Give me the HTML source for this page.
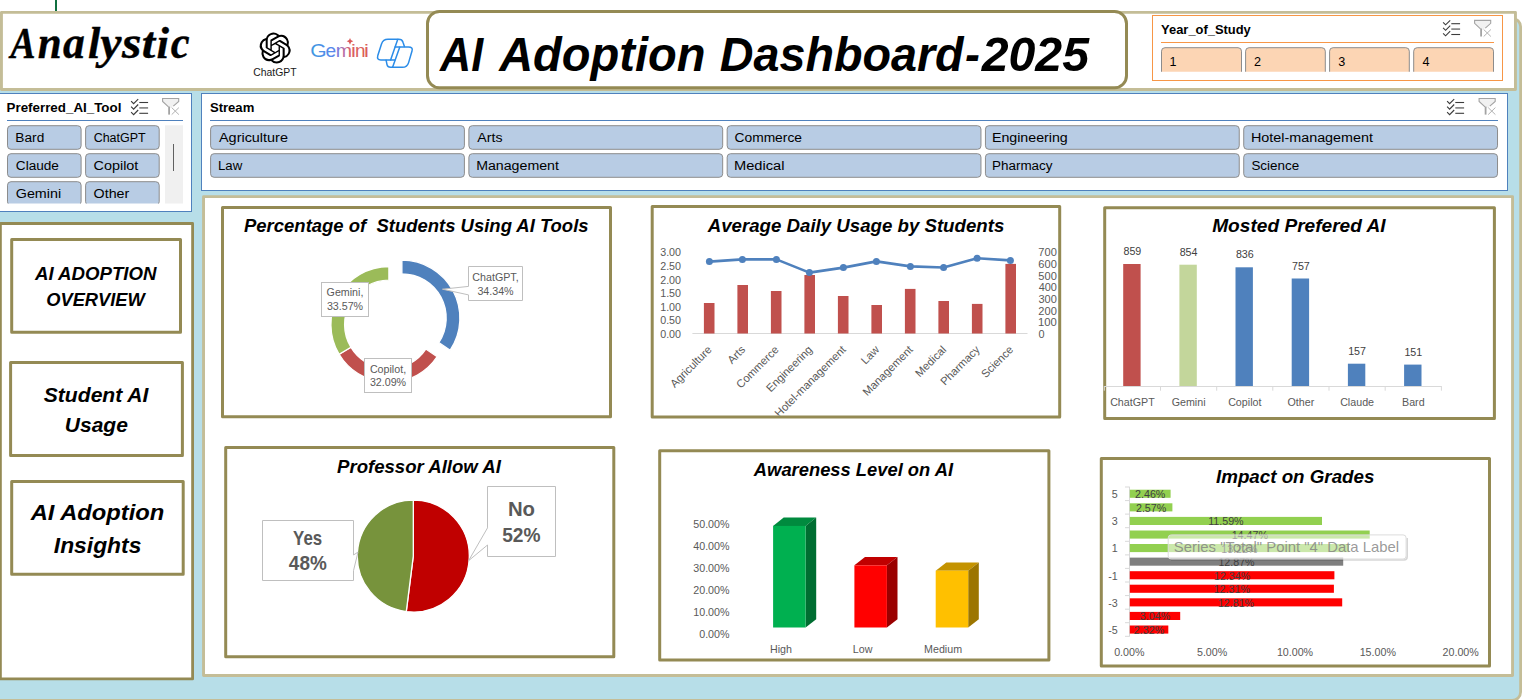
<!DOCTYPE html>
<html><head><meta charset="utf-8"><title>AI Adoption Dashboard-2025</title>
<style>
html,body{margin:0;padding:0;background:#fff;overflow:hidden}
svg{display:block;font-family:"Liberation Sans",sans-serif}
</style></head>
<body>
<svg width="1529" height="700" viewBox="0 0 1529 700">
<rect x="0" y="0" width="1529" height="700" fill="#fff"/>
<rect x="-8.5" y="18.3" width="1529.1" height="682.2" rx="8.5" fill="#B7DEE8" stroke="#C4BD97" stroke-width="2.8"/>
<rect x="55" y="0" width="2" height="11" fill="#107040"/>
<rect x="1.45" y="12.35" width="1514.0" height="77.19999999999999" fill="#fff" stroke="#C4BD97" stroke-width="2.9" stroke-linejoin="round"/>
<text x="10.5" y="58" font-size="44.3" fill="#000" font-weight="bold" font-style="italic" textLength="25.02" lengthAdjust="spacingAndGlyphs" font-family="'Liberation Serif', serif" stroke="#000" stroke-width="0.4">A</text>
<text x="37.67" y="58" font-size="46" fill="#000" font-weight="bold" font-style="italic" textLength="23.91" lengthAdjust="spacingAndGlyphs" font-family="'Liberation Serif', serif" stroke="#000" stroke-width="0.4">n</text>
<text x="62.93" y="58" font-size="46" fill="#000" font-weight="bold" font-style="italic" textLength="21.84" lengthAdjust="spacingAndGlyphs" font-family="'Liberation Serif', serif" stroke="#000" stroke-width="0.4">a</text>
<text x="87.92" y="58" font-size="45" fill="#000" font-weight="bold" font-style="italic" textLength="12.32" lengthAdjust="spacingAndGlyphs" font-family="'Liberation Serif', serif" stroke="#000" stroke-width="0.4">l</text>
<text x="100.3" y="58" font-size="46" fill="#000" font-weight="bold" font-style="italic" textLength="21.21" lengthAdjust="spacingAndGlyphs" font-family="'Liberation Serif', serif" stroke="#000" stroke-width="0.4">y</text>
<text x="122.07" y="58" font-size="46" fill="#000" font-weight="bold" font-style="italic" textLength="19.46" lengthAdjust="spacingAndGlyphs" font-family="'Liberation Serif', serif" stroke="#000" stroke-width="0.4">s</text>
<text x="141.73" y="58" font-size="45" fill="#000" font-weight="bold" font-style="italic" textLength="13.38" lengthAdjust="spacingAndGlyphs" font-family="'Liberation Serif', serif" stroke="#000" stroke-width="0.4">t</text>
<text x="156.48" y="58" font-size="45" fill="#000" font-weight="bold" font-style="italic" textLength="12.49" lengthAdjust="spacingAndGlyphs" font-family="'Liberation Serif', serif" stroke="#000" stroke-width="0.4">i</text>
<text x="170.82" y="58" font-size="46" fill="#000" font-weight="bold" font-style="italic" textLength="18.79" lengthAdjust="spacingAndGlyphs" font-family="'Liberation Serif', serif" stroke="#000" stroke-width="0.4">c</text>
<rect x="427.5" y="11.5" width="699" height="76.3" fill="#fff" stroke="#948A54" stroke-width="3" rx="12" stroke-linejoin="round"/>
<text x="440.1" y="71" font-size="48" fill="#000" font-weight="bold" font-style="italic" textLength="43.03" lengthAdjust="spacingAndGlyphs">AI</text>
<text x="499.18" y="71" font-size="48" fill="#000" font-weight="bold" font-style="italic" textLength="206.25" lengthAdjust="spacingAndGlyphs">Adoption</text>
<text x="719.85" y="71" font-size="48" fill="#000" font-weight="bold" font-style="italic" textLength="243.79" lengthAdjust="spacingAndGlyphs">Dashboard</text>
<text x="965.02" y="71" font-size="48" fill="#000" font-weight="bold" font-style="italic" textLength="14.84" lengthAdjust="spacingAndGlyphs">-</text>
<text x="981.65" y="71" font-size="48" fill="#000" font-weight="bold" font-style="italic" textLength="107.35" lengthAdjust="spacingAndGlyphs">2025</text>
<path transform="translate(259.6,32.5) scale(1.297,1.292)" d="M22.2819 9.8211a5.9847 5.9847 0 0 0-.5157-4.9108 6.0462 6.0462 0 0 0-6.5098-2.9A6.0651 6.0651 0 0 0 4.9807 4.1818a5.9847 5.9847 0 0 0-3.9977 2.9 6.0462 6.0462 0 0 0 .7427 7.0966 5.98 5.98 0 0 0 .511 4.9107 6.051 6.051 0 0 0 6.5146 2.9001A5.9847 5.9847 0 0 0 13.2599 24a6.0557 6.0557 0 0 0 5.7718-4.2058 5.9894 5.9894 0 0 0 3.9977-2.9001 6.0557 6.0557 0 0 0-.7475-7.0729zm-9.022 12.6081a4.4755 4.4755 0 0 1-2.8764-1.0408l.1419-.0804 4.7783-2.7582a.7948.7948 0 0 0 .3927-.6813v-6.7369l2.02 1.1686a.071.071 0 0 1 .038.052v5.5826a4.504 4.504 0 0 1-4.4945 4.4944zm-9.6607-4.1254a4.4708 4.4708 0 0 1-.5346-3.0137l.142.0852 4.783 2.7582a.7712.7712 0 0 0 .7806 0l5.8428-3.3685v2.3324a.0804.0804 0 0 1-.0332.0615L9.74 19.9502a4.4992 4.4992 0 0 1-6.1408-1.6464zM2.3408 7.8956a4.485 4.485 0 0 1 2.3655-1.9728V11.6a.7664.7664 0 0 0 .3879.6765l5.8144 3.3543-2.0201 1.1685a.0757.0757 0 0 1-.071 0l-4.8303-2.7865A4.504 4.504 0 0 1 2.3408 7.872zm16.5963 3.8558L13.1038 8.364 15.1192 7.2a.0757.0757 0 0 1 .071 0l4.8303 2.7913a4.4944 4.4944 0 0 1-.6765 8.1042v-5.6772a.79.79 0 0 0-.407-.667zm2.0107-3.0231l-.142-.0852-4.7735-2.7818a.7759.7759 0 0 0-.7854 0L9.409 9.2297V6.8974a.0662.0662 0 0 1 .0284-.0615l4.8303-2.7866a4.4992 4.4992 0 0 1 6.6802 4.66zM8.3065 12.863l-2.02-1.1638a.0804.0804 0 0 1-.038-.0567V6.0742a4.4992 4.4992 0 0 1 7.3757-3.4537l-.142.0805L8.704 5.459a.7948.7948 0 0 0-.3927.6813zm1.0976-2.3654l2.602-1.4998 2.6069 1.4998v2.9994l-2.5974 1.4997-2.6067-1.4997Z" fill="#000"/>
<text x="253.2" y="76" font-size="11.5" fill="#1a1a1a" textLength="43.3" lengthAdjust="spacingAndGlyphs">ChatGPT</text>
<defs><linearGradient id="gem" gradientUnits="userSpaceOnUse" x1="311" x2="368" y1="0" y2="0"><stop offset="0" stop-color="#3F97E0"/><stop offset="0.40" stop-color="#5A86EC"/><stop offset="0.47" stop-color="#7577D8"/><stop offset="0.58" stop-color="#B86AA0"/><stop offset="0.69" stop-color="#D95F66"/><stop offset="1" stop-color="#DA5D55"/></linearGradient></defs>
<text x="310.15" y="57.25" font-size="19.2" fill="url(#gem)" textLength="16.43" lengthAdjust="spacingAndGlyphs">G</text>
<text x="325.38" y="57.25" font-size="19.2" fill="url(#gem)" textLength="10.67" lengthAdjust="spacingAndGlyphs">e</text>
<text x="335.73" y="57.25" font-size="19.2" fill="url(#gem)" textLength="16.28" lengthAdjust="spacingAndGlyphs">m</text>
<text x="351.07" y="57.25" font-size="19.2" fill="url(#gem)" textLength="4.88" lengthAdjust="spacingAndGlyphs">i</text>
<text x="355.02" y="57.25" font-size="19.2" fill="url(#gem)" textLength="10.51" lengthAdjust="spacingAndGlyphs">n</text>
<text x="364.07" y="57.25" font-size="19.2" fill="url(#gem)" textLength="4.88" lengthAdjust="spacingAndGlyphs">i</text>
<path d="M350 37.9 q0.5 2.9 3.3 3.4 q-2.8 0.5 -3.3 3.4 q-0.5 -2.9 -3.3 -3.4 q2.8 -0.5 3.3 -3.4z" fill="#DB5A5A"/>
<g fill="none" stroke="#2B8CE8" stroke-width="1.5" stroke-linejoin="round" stroke-linecap="round"><path d="M394.9 59.9 H380.8 Q376.6 59.9 377.8 55.6 L381.5 43.9 Q383 39.3 388 39.3 H398.6 Q402.2 39.3 403 42.2 L404.4 46.6"/><path d="M395.1 47 H408.4 Q413.3 47 412 51 L408.6 62.6 Q407.2 67.3 402.4 67.3 H390.5 Q387.6 67.3 387 64.6 L386.1 60.2"/><path d="M397.7 39.5 L390.6 59.9"/><path d="M399.7 47.2 L392.6 67.2"/></g>
<rect x="1152.5" y="15.5" width="350" height="65" fill="#fff" stroke="#F79646" stroke-width="1"/>
<text x="1161.14" y="33.9" font-size="12.5" fill="#000" font-weight="bold" textLength="89.65" lengthAdjust="spacingAndGlyphs">Year_of_Study</text>
<g transform="translate(1443.1,20.4)" fill="none" stroke="#3C3C3C" stroke-width="1.15"><path d="M0 1.9 L2.5 4.4 L7.1 0"/><path d="M0 7.5 L2.5 9.9 L7.1 5.3"/><path d="M0 13 L2.5 15.4 L7.1 10.8"/><path d="M8.2 3.3 H17" stroke-width="1.1"/><path d="M8.2 8.7 H17" stroke="#7F7F7F" stroke-width="1.6"/><path d="M8.2 14.1 H17" stroke-width="1.1"/></g>
<g transform="translate(1474.1,19.9)" fill="none" stroke="#A3A3A3" stroke-width="1.1"><path d="M0.5 0.5 H16.6 V3.2 L8 10.5 L6.6 8.9 L0.5 3.2Z" fill="#F1F1F1" stroke="none"/><path d="M11.2 8.2 L16.6 3.4 V0.5 H0.5 V3.4 L6.4 8.9"/><rect x="6.1" y="8.6" width="1.8" height="8" fill="#A3A3A3" stroke="none"/><path d="M9.6 9.6 L16.8 16.6 M16.8 9.6 L9.6 16.6" stroke="#B2B2B2" stroke-width="1"/></g>
<path d="M1161 42.5 H1494" stroke="#F79646" stroke-width="1"/>
<clipPath id="cy"><rect x="1155" y="44" width="345" height="27.8"/></clipPath><g clip-path="url(#cy)">
<rect x="1161.5" y="47.7" width="80" height="30" fill="#FCD5B4" stroke="#8C8C8C" stroke-width="1" rx="3.5"/>
<text x="1169.6" y="65.9" font-size="12.6" fill="#000">1</text>
<rect x="1245.6" y="47.7" width="79.70000000000005" height="30" fill="#FCD5B4" stroke="#8C8C8C" stroke-width="1" rx="3.5"/>
<text x="1254.07" y="65.9" font-size="12.6" fill="#000">2</text>
<rect x="1329.6" y="47.7" width="79.70000000000005" height="30" fill="#FCD5B4" stroke="#8C8C8C" stroke-width="1" rx="3.5"/>
<text x="1338.2" y="65.9" font-size="12.6" fill="#000">3</text>
<rect x="1413.7" y="47.7" width="79.79999999999995" height="30" fill="#FCD5B4" stroke="#8C8C8C" stroke-width="1" rx="3.5"/>
<text x="1422.55" y="65.9" font-size="12.6" fill="#000">4</text>
</g>
<rect x="-1.5" y="93.5" width="193" height="118" fill="#fff" stroke="#4F81BD" stroke-width="1"/>
<text x="6.56" y="111.9" font-size="12.5" fill="#000" font-weight="bold" textLength="114.85" lengthAdjust="spacingAndGlyphs">Preferred_AI_Tool</text>
<g transform="translate(131.1,99.2)" fill="none" stroke="#3C3C3C" stroke-width="1.15"><path d="M0 1.9 L2.5 4.4 L7.1 0"/><path d="M0 7.5 L2.5 9.9 L7.1 5.3"/><path d="M0 13 L2.5 15.4 L7.1 10.8"/><path d="M8.2 3.3 H17" stroke-width="1.1"/><path d="M8.2 8.7 H17" stroke="#7F7F7F" stroke-width="1.6"/><path d="M8.2 14.1 H17" stroke-width="1.1"/></g>
<g transform="translate(162.1,98)" fill="none" stroke="#A3A3A3" stroke-width="1.1"><path d="M0.5 0.5 H16.6 V3.2 L8 10.5 L6.6 8.9 L0.5 3.2Z" fill="#F1F1F1" stroke="none"/><path d="M11.2 8.2 L16.6 3.4 V0.5 H0.5 V3.4 L6.4 8.9"/><rect x="6.1" y="8.6" width="1.8" height="8" fill="#A3A3A3" stroke="none"/><path d="M9.6 9.6 L16.8 16.6 M16.8 9.6 L9.6 16.6" stroke="#B2B2B2" stroke-width="1"/></g>
<path d="M7 120.5 H183" stroke="#4F81BD" stroke-width="1"/>
<clipPath id="cp"><rect x="0" y="122" width="190" height="81.5"/></clipPath><g clip-path="url(#cp)">
<rect x="7.5" y="125.7" width="73.6" height="23.6" fill="#B8CCE4" stroke="#8C8C8C" stroke-width="1" rx="3.5"/>
<text x="15.39" y="141.7" font-size="12.3" fill="#000" textLength="28.87" lengthAdjust="spacingAndGlyphs">Bard</text>
<rect x="85.6" y="125.7" width="73.6" height="23.6" fill="#B8CCE4" stroke="#8C8C8C" stroke-width="1" rx="3.5"/>
<text x="93.67" y="141.7" font-size="12.3" fill="#000" textLength="52.0" lengthAdjust="spacingAndGlyphs">ChatGPT</text>
<rect x="7.5" y="153.7" width="73.6" height="23.6" fill="#B8CCE4" stroke="#8C8C8C" stroke-width="1" rx="3.5"/>
<text x="15.81" y="169.7" font-size="12.3" fill="#000" textLength="43.15" lengthAdjust="spacingAndGlyphs">Claude</text>
<rect x="85.6" y="153.7" width="73.6" height="23.6" fill="#B8CCE4" stroke="#8C8C8C" stroke-width="1" rx="3.5"/>
<text x="93.57" y="169.7" font-size="12.3" fill="#000" textLength="44.77" lengthAdjust="spacingAndGlyphs">Copilot</text>
<rect x="7.5" y="181.7" width="73.6" height="23.6" fill="#B8CCE4" stroke="#8C8C8C" stroke-width="1" rx="3.5"/>
<text x="15.77" y="197.7" font-size="12.3" fill="#000" textLength="45.29" lengthAdjust="spacingAndGlyphs">Gemini</text>
<rect x="85.6" y="181.7" width="73.6" height="23.6" fill="#B8CCE4" stroke="#8C8C8C" stroke-width="1" rx="3.5"/>
<text x="93.57" y="197.7" font-size="12.3" fill="#000" textLength="35.73" lengthAdjust="spacingAndGlyphs">Other</text>
<rect x="165" y="125.3" width="18" height="90" fill="#F0F0F0"/>
</g>
<path d="M173.5 144 V171" stroke="#606060" stroke-width="1"/>
<rect x="201.5" y="93.5" width="1306" height="97" fill="#fff" stroke="#4F81BD" stroke-width="1"/>
<text x="209.91" y="111.9" font-size="12.5" fill="#000" font-weight="bold" textLength="44.39" lengthAdjust="spacingAndGlyphs">Stream</text>
<g transform="translate(1447.1,99.2)" fill="none" stroke="#3C3C3C" stroke-width="1.15"><path d="M0 1.9 L2.5 4.4 L7.1 0"/><path d="M0 7.5 L2.5 9.9 L7.1 5.3"/><path d="M0 13 L2.5 15.4 L7.1 10.8"/><path d="M8.2 3.3 H17" stroke-width="1.1"/><path d="M8.2 8.7 H17" stroke="#7F7F7F" stroke-width="1.6"/><path d="M8.2 14.1 H17" stroke-width="1.1"/></g>
<g transform="translate(1478.6,98)" fill="none" stroke="#A3A3A3" stroke-width="1.1"><path d="M0.5 0.5 H16.6 V3.2 L8 10.5 L6.6 8.9 L0.5 3.2Z" fill="#F1F1F1" stroke="none"/><path d="M11.2 8.2 L16.6 3.4 V0.5 H0.5 V3.4 L6.4 8.9"/><rect x="6.1" y="8.6" width="1.8" height="8" fill="#A3A3A3" stroke="none"/><path d="M9.6 9.6 L16.8 16.6 M16.8 9.6 L9.6 16.6" stroke="#B2B2B2" stroke-width="1"/></g>
<path d="M210 120.5 H1498" stroke="#4F81BD" stroke-width="1"/>
<rect x="210.6" y="125.7" width="253.8" height="23.6" fill="#B8CCE4" stroke="#8C8C8C" stroke-width="1" rx="3.5"/>
<text x="219.0" y="141.7" font-size="12.3" fill="#000" textLength="68.92" lengthAdjust="spacingAndGlyphs">Agriculture</text>
<rect x="468.88" y="125.7" width="253.8" height="23.6" fill="#B8CCE4" stroke="#8C8C8C" stroke-width="1" rx="3.5"/>
<text x="477.3" y="141.7" font-size="12.3" fill="#000" textLength="25.18" lengthAdjust="spacingAndGlyphs">Arts</text>
<rect x="727.16" y="125.7" width="253.8" height="23.6" fill="#B8CCE4" stroke="#8C8C8C" stroke-width="1" rx="3.5"/>
<text x="734.5" y="141.7" font-size="12.3" fill="#000" textLength="67.48" lengthAdjust="spacingAndGlyphs">Commerce</text>
<rect x="985.4399999999999" y="125.7" width="253.8" height="23.6" fill="#B8CCE4" stroke="#8C8C8C" stroke-width="1" rx="3.5"/>
<text x="991.94" y="141.7" font-size="12.3" fill="#000" textLength="75.84" lengthAdjust="spacingAndGlyphs">Engineering</text>
<rect x="1243.7199999999998" y="125.7" width="253.8" height="23.6" fill="#B8CCE4" stroke="#8C8C8C" stroke-width="1" rx="3.5"/>
<text x="1250.93" y="141.7" font-size="12.3" fill="#000" textLength="122.06" lengthAdjust="spacingAndGlyphs">Hotel-management</text>
<rect x="210.6" y="153.7" width="253.8" height="23.6" fill="#B8CCE4" stroke="#8C8C8C" stroke-width="1" rx="3.5"/>
<text x="217.92" y="169.7" font-size="12.3" fill="#000" textLength="24.31" lengthAdjust="spacingAndGlyphs">Law</text>
<rect x="468.88" y="153.7" width="253.8" height="23.6" fill="#B8CCE4" stroke="#8C8C8C" stroke-width="1" rx="3.5"/>
<text x="476.15" y="169.7" font-size="12.3" fill="#000" textLength="82.79" lengthAdjust="spacingAndGlyphs">Management</text>
<rect x="727.16" y="153.7" width="253.8" height="23.6" fill="#B8CCE4" stroke="#8C8C8C" stroke-width="1" rx="3.5"/>
<text x="734.01" y="169.7" font-size="12.3" fill="#000" textLength="50.48" lengthAdjust="spacingAndGlyphs">Medical</text>
<rect x="985.4399999999999" y="153.7" width="253.8" height="23.6" fill="#B8CCE4" stroke="#8C8C8C" stroke-width="1" rx="3.5"/>
<text x="992.01" y="169.7" font-size="12.3" fill="#000" textLength="60.48" lengthAdjust="spacingAndGlyphs">Pharmacy</text>
<rect x="1243.7199999999998" y="153.7" width="253.8" height="23.6" fill="#B8CCE4" stroke="#8C8C8C" stroke-width="1" rx="3.5"/>
<text x="1251.42" y="169.7" font-size="12.3" fill="#000" textLength="47.73" lengthAdjust="spacingAndGlyphs">Science</text>
<rect x="0.3999999999999999" y="223.5" width="192.2" height="455.3999999999999" fill="#fff" stroke="#948A54" stroke-width="2.8" stroke-linejoin="round"/>
<rect x="11.7" y="239.5" width="168.8" height="92.80000000000001" fill="#fff" stroke="#948A54" stroke-width="3" stroke-linejoin="round"/>
<rect x="10.6" y="362.6" width="171.8" height="92.79999999999995" fill="#fff" stroke="#948A54" stroke-width="3" stroke-linejoin="round"/>
<rect x="11.7" y="481.5" width="171.5" height="92.70000000000005" fill="#fff" stroke="#948A54" stroke-width="3" stroke-linejoin="round"/>
<text x="34.98" y="280" font-size="18.6" fill="#000" font-weight="bold" font-style="italic" textLength="121.54" lengthAdjust="spacingAndGlyphs">AI ADOPTION</text>
<text x="46.24" y="305.9" font-size="18.6" fill="#000" font-weight="bold" font-style="italic" textLength="98.6" lengthAdjust="spacingAndGlyphs">OVERVIEW</text>
<text x="43.74" y="401.8" font-size="20.4" fill="#000" font-weight="bold" font-style="italic" textLength="104.74" lengthAdjust="spacingAndGlyphs">Student AI</text>
<text x="64.84" y="431.5" font-size="20.4" fill="#000" font-weight="bold" font-style="italic" textLength="63.05" lengthAdjust="spacingAndGlyphs">Usage</text>
<text x="30.69" y="520" font-size="22.6" fill="#000" font-weight="bold" font-style="italic" textLength="133.66" lengthAdjust="spacingAndGlyphs">AI Adoption</text>
<text x="53.82" y="552.5" font-size="22.6" fill="#000" font-weight="bold" font-style="italic" textLength="87.54" lengthAdjust="spacingAndGlyphs">Insights</text>
<rect x="203.54999999999998" y="196.64999999999998" width="1309.0" height="478.8" fill="#fff" stroke="#C4BD97" stroke-width="2.9" stroke-linejoin="round"/>
<rect x="222.5" y="207.5" width="388" height="209.2" fill="#fff" stroke="#948A54" stroke-width="3" stroke-linejoin="round"/>
<text x="244.03" y="232.3" font-size="18.6" fill="#000" font-weight="bold" font-style="italic" textLength="344.52" lengthAdjust="spacingAndGlyphs">Percentage of  Students Using AI Tools</text>
<path d="M401.90 260.10 A58 58 0 0 1 450.20 350.22 L438.79 342.63 A44.3 44.3 0 0 0 401.90 273.80Z" fill="#4F81BD" stroke="#fff" stroke-width="1.3"/>
<path d="M437.20 356.62 A58 58 0 0 1 339.11 354.24 L350.87 347.22 A44.3 44.3 0 0 0 425.79 349.03Z" fill="#C0504D" stroke="#fff" stroke-width="1.3"/>
<path d="M339.11 354.24 A58 58 0 0 1 388.90 266.50 L388.90 280.20 A44.3 44.3 0 0 0 350.87 347.22Z" fill="#9BBB59" stroke="#fff" stroke-width="1.3"/>
<path d="M468.5 266.5 H522.5 V300.5 H468.5 V294.9 L442.5 289.2 L468.5 286.4 Z" fill="#fff" stroke="#BFBFBF" stroke-width="1"/>
<text x="495.5" y="281.1" font-size="10.7" fill="#595959" text-anchor="middle">ChatGPT,</text>
<text x="495.5" y="294.9" font-size="10.7" fill="#595959" text-anchor="middle">34.34%</text>
<rect x="321.5" y="282.5" width="47.0" height="34.0" fill="#fff" stroke="#BFBFBF" stroke-width="1"/>
<text x="345.0" y="296" font-size="10.7" fill="#595959" text-anchor="middle">Gemini,</text>
<text x="345.0" y="309.7" font-size="10.7" fill="#595959" text-anchor="middle">33.57%</text>
<rect x="364.5" y="358.5" width="47.0" height="34.0" fill="#fff" stroke="#BFBFBF" stroke-width="1"/>
<text x="388.0" y="373.3" font-size="10.7" fill="#595959" text-anchor="middle">Copilot,</text>
<text x="388.0" y="386.3" font-size="10.7" fill="#595959" text-anchor="middle">32.09%</text>
<rect x="652.2" y="206.5" width="407.5" height="210.39999999999998" fill="#fff" stroke="#948A54" stroke-width="3" stroke-linejoin="round"/>
<text x="707.78" y="231.5" font-size="18.6" fill="#000" font-weight="bold" font-style="italic" textLength="296.5" lengthAdjust="spacingAndGlyphs">Average Daily Usage by Students</text>
<text x="681" y="337.9" font-size="10.7" fill="#595959" text-anchor="end">0.00</text>
<text x="681" y="324.29999999999995" font-size="10.7" fill="#595959" text-anchor="end">0.50</text>
<text x="681" y="310.7" font-size="10.7" fill="#595959" text-anchor="end">1.00</text>
<text x="681" y="297.09999999999997" font-size="10.7" fill="#595959" text-anchor="end">1.50</text>
<text x="681" y="283.5" font-size="10.7" fill="#595959" text-anchor="end">2.00</text>
<text x="681" y="269.9" font-size="10.7" fill="#595959" text-anchor="end">2.50</text>
<text x="681" y="256.3" font-size="10.7" fill="#595959" text-anchor="end">3.00</text>
<text x="1038.53" y="338.0" font-size="10.9" fill="#595959">0</text>
<text x="1037.99" y="326.3" font-size="10.9" fill="#595959" textLength="18.84" lengthAdjust="spacingAndGlyphs">100</text>
<text x="1038.39" y="314.6" font-size="10.9" fill="#595959" textLength="18.44" lengthAdjust="spacingAndGlyphs">200</text>
<text x="1038.52" y="302.9" font-size="10.9" fill="#595959" textLength="18.3" lengthAdjust="spacingAndGlyphs">300</text>
<text x="1038.65" y="291.3" font-size="10.9" fill="#595959" textLength="18.17" lengthAdjust="spacingAndGlyphs">400</text>
<text x="1038.39" y="279.6" font-size="10.9" fill="#595959" textLength="18.44" lengthAdjust="spacingAndGlyphs">500</text>
<text x="1038.39" y="267.9" font-size="10.9" fill="#595959" textLength="18.44" lengthAdjust="spacingAndGlyphs">600</text>
<text x="1038.39" y="256.2" font-size="10.9" fill="#595959" textLength="18.44" lengthAdjust="spacingAndGlyphs">700</text>
<path d="M692.4 333.5 H1027.5" stroke="#D9D9D9" stroke-width="1"/>
<clipPath id="c2"><rect x="653.7" y="208" width="404.5" height="207.4"/></clipPath><g clip-path="url(#c2)">
<rect x="703.9" y="303" width="10.6" height="30.5" fill="#C0504D"/>
<text transform="translate(712.5,350.4) rotate(-45)" text-anchor="end" font-size="11.2" fill="#595959">Agriculture</text>
<rect x="737.4" y="285" width="10.6" height="48.5" fill="#C0504D"/>
<text transform="translate(746.0,350.4) rotate(-45)" text-anchor="end" font-size="11.2" fill="#595959">Arts</text>
<rect x="770.9" y="291" width="10.6" height="42.5" fill="#C0504D"/>
<text transform="translate(779.5,350.4) rotate(-45)" text-anchor="end" font-size="11.2" fill="#595959">Commerce</text>
<rect x="804.4" y="275" width="10.6" height="58.5" fill="#C0504D"/>
<text transform="translate(813.0,350.4) rotate(-45)" text-anchor="end" font-size="11.2" fill="#595959">Engineering</text>
<rect x="837.9" y="296" width="10.6" height="37.5" fill="#C0504D"/>
<text transform="translate(846.5,350.4) rotate(-45)" text-anchor="end" font-size="11.2" fill="#595959">Hotel-management</text>
<rect x="871.4" y="305" width="10.6" height="28.5" fill="#C0504D"/>
<text transform="translate(880.0,350.4) rotate(-45)" text-anchor="end" font-size="11.2" fill="#595959">Law</text>
<rect x="904.9" y="288.9" width="10.6" height="44.60000000000002" fill="#C0504D"/>
<text transform="translate(913.5,350.4) rotate(-45)" text-anchor="end" font-size="11.2" fill="#595959">Management</text>
<rect x="938.4" y="301" width="10.6" height="32.5" fill="#C0504D"/>
<text transform="translate(947.0,350.4) rotate(-45)" text-anchor="end" font-size="11.2" fill="#595959">Medical</text>
<rect x="971.9" y="303.9" width="10.6" height="29.600000000000023" fill="#C0504D"/>
<text transform="translate(980.5,350.4) rotate(-45)" text-anchor="end" font-size="11.2" fill="#595959">Pharmacy</text>
<rect x="1005.4" y="263.9" width="10.6" height="69.60000000000002" fill="#C0504D"/>
<text transform="translate(1014.0,350.4) rotate(-45)" text-anchor="end" font-size="11.2" fill="#595959">Science</text>
</g>
<polyline fill="none" stroke="#4F81BD" stroke-width="2.6" stroke-linejoin="round" points="709.4,261.6 742.4,259.4 776.4,259.4 809.4,272.6 843.4,267.6 876.4,261.4 910.4,266.4 943.6,267.5 977.1,258.2 1010.4,260.4"/>
<circle cx="709.4" cy="261.6" r="3.5" fill="#4F81BD"/>
<circle cx="742.4" cy="259.4" r="3.5" fill="#4F81BD"/>
<circle cx="776.4" cy="259.4" r="3.5" fill="#4F81BD"/>
<circle cx="809.4" cy="272.6" r="3.5" fill="#4F81BD"/>
<circle cx="843.4" cy="267.6" r="3.5" fill="#4F81BD"/>
<circle cx="876.4" cy="261.4" r="3.5" fill="#4F81BD"/>
<circle cx="910.4" cy="266.4" r="3.5" fill="#4F81BD"/>
<circle cx="943.6" cy="267.5" r="3.5" fill="#4F81BD"/>
<circle cx="977.1" cy="258.2" r="3.5" fill="#4F81BD"/>
<circle cx="1010.4" cy="260.4" r="3.5" fill="#4F81BD"/>
<rect x="1104.7" y="207.7" width="389.70000000000005" height="210.7" fill="#fff" stroke="#948A54" stroke-width="3" stroke-linejoin="round"/>
<text x="1212.21" y="232.4" font-size="18.6" fill="#000" font-weight="bold" font-style="italic" textLength="173.42" lengthAdjust="spacingAndGlyphs">Mosted Prefered AI</text>
<path d="M1104.3 386.5 H1441.4" stroke="#D9D9D9" stroke-width="1"/>
<path d="M1104.3 386 V390.7" stroke="#D9D9D9" stroke-width="1"/>
<path d="M1160.5 386 V390.7" stroke="#D9D9D9" stroke-width="1"/>
<path d="M1216.7 386 V390.7" stroke="#D9D9D9" stroke-width="1"/>
<path d="M1272.8 386 V390.7" stroke="#D9D9D9" stroke-width="1"/>
<path d="M1329.0 386 V390.7" stroke="#D9D9D9" stroke-width="1"/>
<path d="M1385.2 386 V390.7" stroke="#D9D9D9" stroke-width="1"/>
<path d="M1441.4 386 V390.7" stroke="#D9D9D9" stroke-width="1"/>
<rect x="1123.2" y="264.0" width="17.4" height="122.0" fill="#C0504D"/>
<text x="1132.4" y="255.0" font-size="10.7" fill="#404040" text-anchor="middle">859</text>
<text x="1132.4" y="406.1" font-size="10.7" fill="#595959" text-anchor="middle">ChatGPT</text>
<rect x="1179.4" y="264.7" width="17.4" height="121.3" fill="#C3D69B"/>
<text x="1188.6" y="255.7" font-size="10.7" fill="#404040" text-anchor="middle">854</text>
<text x="1188.6" y="406.1" font-size="10.7" fill="#595959" text-anchor="middle">Gemini</text>
<rect x="1235.5" y="267.3" width="17.4" height="118.7" fill="#4F81BD"/>
<text x="1244.8" y="258.3" font-size="10.7" fill="#404040" text-anchor="middle">836</text>
<text x="1244.8" y="406.1" font-size="10.7" fill="#595959" text-anchor="middle">Copilot</text>
<rect x="1291.7" y="278.5" width="17.4" height="107.5" fill="#4F81BD"/>
<text x="1300.9" y="269.5" font-size="10.7" fill="#404040" text-anchor="middle">757</text>
<text x="1300.9" y="406.1" font-size="10.7" fill="#595959" text-anchor="middle">Other</text>
<rect x="1347.9" y="363.7" width="17.4" height="22.3" fill="#4F81BD"/>
<text x="1357.1" y="354.7" font-size="10.7" fill="#404040" text-anchor="middle">157</text>
<text x="1357.1" y="406.1" font-size="10.7" fill="#595959" text-anchor="middle">Claude</text>
<rect x="1404.1" y="364.6" width="17.4" height="21.4" fill="#4F81BD"/>
<text x="1413.3" y="355.6" font-size="10.7" fill="#404040" text-anchor="middle">151</text>
<text x="1413.3" y="406.1" font-size="10.7" fill="#595959" text-anchor="middle">Bard</text>
<rect x="225.7" y="447.5" width="388.09999999999997" height="209.20000000000005" fill="#fff" stroke="#948A54" stroke-width="3" stroke-linejoin="round"/>
<text x="337.03" y="472.9" font-size="18.6" fill="#000" font-weight="bold" font-style="italic" textLength="163.86" lengthAdjust="spacingAndGlyphs">Professor Allow AI</text>
<path d="M413.3 556 L413.3 500 A56 56 0 1 1 406.28 611.56Z" fill="#C00000" stroke="#fff" stroke-width="1.3" stroke-linejoin="round"/>
<path d="M413.3 556 L406.28 611.56 A56 56 0 0 1 413.3 500Z" fill="#77933C" stroke="#fff" stroke-width="1.3" stroke-linejoin="round"/>
<path d="M487.5 486.5 H555.5 V556.5 H487.5 V545 L468.6 560.7 L487.5 527.9 Z" fill="#fff" stroke="#BFBFBF" stroke-width="1"/>
<text x="507.94" y="515.7" font-size="19.8" fill="#595959" font-weight="bold" textLength="27.08" lengthAdjust="spacingAndGlyphs">No</text>
<text x="502.14" y="541.7" font-size="19.8" fill="#595959" font-weight="bold" textLength="38.36" lengthAdjust="spacingAndGlyphs">52%</text>
<path d="M262.5 520.5 H353.5 V555 L358 552.1 L353.5 570.7 V580.5 H262.5 Z" fill="#fff" stroke="#BFBFBF" stroke-width="1"/>
<text x="293.08" y="545" font-size="19.8" fill="#595959" font-weight="bold" textLength="29.05" lengthAdjust="spacingAndGlyphs">Yes</text>
<text x="288.86" y="570.2" font-size="19.8" fill="#595959" font-weight="bold" textLength="37.89" lengthAdjust="spacingAndGlyphs">48%</text>
<rect x="659.7" y="450.8" width="389.20000000000005" height="209.2" fill="#fff" stroke="#948A54" stroke-width="3" stroke-linejoin="round"/>
<text x="753.87" y="475.7" font-size="18.6" fill="#000" font-weight="bold" font-style="italic" textLength="199.17" lengthAdjust="spacingAndGlyphs">Awareness Level on AI</text>
<text x="729.5" y="638.3" font-size="10.7" fill="#595959" text-anchor="end">0.00%</text>
<text x="729.5" y="616.3" font-size="10.7" fill="#595959" text-anchor="end">10.00%</text>
<text x="729.5" y="594.3" font-size="10.7" fill="#595959" text-anchor="end">20.00%</text>
<text x="729.5" y="572.3" font-size="10.7" fill="#595959" text-anchor="end">30.00%</text>
<text x="729.5" y="550.3" font-size="10.7" fill="#595959" text-anchor="end">40.00%</text>
<text x="729.5" y="528.3" font-size="10.7" fill="#595959" text-anchor="end">50.00%</text>
<path d="M773.1 525.9 L783.7 517.6 H816.2 L805.6 525.9Z" fill="#008A3E"/>
<path d="M805.6 525.9 L816.2 517.6 V619.2 L805.6 627.5Z" fill="#006D31"/>
<rect x="773.1" y="525.9" width="32.5" height="101.60000000000002" fill="#00B050"/>
<path d="M854.4 565.3 L865.0 557.0 H897.5 L886.9 565.3Z" fill="#C00000"/>
<path d="M886.9 565.3 L897.5 557.0 V619.2 L886.9 627.5Z" fill="#9A0000"/>
<rect x="854.4" y="565.3" width="32.5" height="62.200000000000045" fill="#FF0000"/>
<path d="M935.7 570.7 L946.3000000000001 562.4000000000001 H978.8000000000001 L968.2 570.7Z" fill="#C49300"/>
<path d="M968.2 570.7 L978.8000000000001 562.4000000000001 V619.2 L968.2 627.5Z" fill="#9C7500"/>
<rect x="935.7" y="570.7" width="32.5" height="56.799999999999955" fill="#FFC000"/>
<text x="781" y="652.7" font-size="10.7" fill="#595959" text-anchor="middle">High</text>
<text x="862.6" y="652.7" font-size="10.7" fill="#595959" text-anchor="middle">Low</text>
<text x="943.1" y="652.7" font-size="10.7" fill="#595959" text-anchor="middle">Medium</text>
<rect x="1101.3" y="458.5" width="388.20000000000005" height="207.39999999999998" fill="#fff" stroke="#948A54" stroke-width="3" stroke-linejoin="round"/>
<text x="1216.02" y="482.7" font-size="18.6" fill="#000" font-weight="bold" font-style="italic" textLength="158.37" lengthAdjust="spacingAndGlyphs">Impact on Grades</text>
<path d="M1129.5 487 V636.3" stroke="#D9D9D9" stroke-width="1"/>
<path d="M1125 487.0 H1129.8" stroke="#D9D9D9" stroke-width="1"/>
<path d="M1125 500.6 H1129.8" stroke="#D9D9D9" stroke-width="1"/>
<path d="M1125 514.1 H1129.8" stroke="#D9D9D9" stroke-width="1"/>
<path d="M1125 527.7 H1129.8" stroke="#D9D9D9" stroke-width="1"/>
<path d="M1125 541.3 H1129.8" stroke="#D9D9D9" stroke-width="1"/>
<path d="M1125 554.9 H1129.8" stroke="#D9D9D9" stroke-width="1"/>
<path d="M1125 568.4 H1129.8" stroke="#D9D9D9" stroke-width="1"/>
<path d="M1125 582.0 H1129.8" stroke="#D9D9D9" stroke-width="1"/>
<path d="M1125 595.6 H1129.8" stroke="#D9D9D9" stroke-width="1"/>
<path d="M1125 609.2 H1129.8" stroke="#D9D9D9" stroke-width="1"/>
<path d="M1125 622.7 H1129.8" stroke="#D9D9D9" stroke-width="1"/>
<path d="M1125 636.3 H1129.8" stroke="#D9D9D9" stroke-width="1"/>
<rect x="1129.8" y="489.7" width="40.8" height="8.1" fill="#92D050"/>
<rect x="1129.8" y="503.3" width="42.6" height="8.1" fill="#92D050"/>
<rect x="1129.8" y="516.9" width="192.2" height="8.1" fill="#92D050"/>
<rect x="1129.8" y="530.5" width="239.9" height="8.1" fill="#92D050"/>
<rect x="1129.8" y="544.0" width="219.2" height="8.1" fill="#92D050"/>
<rect x="1129.8" y="557.6" width="213.4" height="8.1" fill="#7F7F7F"/>
<rect x="1129.8" y="571.2" width="204.6" height="8.1" fill="#FF0000"/>
<rect x="1129.8" y="584.7" width="204.1" height="8.1" fill="#FF0000"/>
<rect x="1129.8" y="598.3" width="212.4" height="8.1" fill="#FF0000"/>
<rect x="1129.8" y="611.9" width="50.4" height="8.1" fill="#FF0000"/>
<rect x="1129.8" y="625.5" width="38.5" height="8.1" fill="#FF0000"/>
<text x="1150.2" y="498.2" font-size="10.7" fill="#404040" text-anchor="middle">2.46%</text>
<text x="1117.8" y="498.1" font-size="10.7" fill="#595959" text-anchor="end">5</text>
<text x="1151.1" y="511.8" font-size="10.7" fill="#404040" text-anchor="middle">2.57%</text>
<text x="1225.9" y="525.3" font-size="10.7" fill="#404040" text-anchor="middle">11.59%</text>
<text x="1117.8" y="525.2" font-size="10.7" fill="#595959" text-anchor="end">3</text>
<text x="1249.8" y="538.9" font-size="10.7" fill="#404040" text-anchor="middle">14.47%</text>
<text x="1239.4" y="552.5" font-size="10.7" fill="#404040" text-anchor="middle">13.22%</text>
<text x="1117.8" y="552.4" font-size="10.7" fill="#595959" text-anchor="end">1</text>
<text x="1236.5" y="566.1" font-size="10.7" fill="#404040" text-anchor="middle">12.87%</text>
<text x="1232.1" y="579.6" font-size="10.7" fill="#404040" text-anchor="middle">12.34%</text>
<text x="1117.8" y="579.5" font-size="10.7" fill="#595959" text-anchor="end">-1</text>
<text x="1231.8" y="593.2" font-size="10.7" fill="#404040" text-anchor="middle">12.31%</text>
<text x="1236.0" y="606.8" font-size="10.7" fill="#404040" text-anchor="middle">12.81%</text>
<text x="1117.8" y="606.7" font-size="10.7" fill="#595959" text-anchor="end">-3</text>
<text x="1155.0" y="620.3" font-size="10.7" fill="#404040" text-anchor="middle">3.04%</text>
<text x="1149.0" y="633.9" font-size="10.7" fill="#404040" text-anchor="middle">2.32%</text>
<text x="1117.8" y="633.8" font-size="10.7" fill="#595959" text-anchor="end">-5</text>
<text x="1129.3" y="656" font-size="10.7" fill="#595959" text-anchor="middle">0.00%</text>
<text x="1212.1" y="656" font-size="10.7" fill="#595959" text-anchor="middle">5.00%</text>
<text x="1295.0" y="656" font-size="10.7" fill="#595959" text-anchor="middle">10.00%</text>
<text x="1377.8" y="656" font-size="10.7" fill="#595959" text-anchor="middle">15.00%</text>
<text x="1460.7" y="656" font-size="10.7" fill="#595959" text-anchor="middle">20.00%</text>
<g><path d="M1171 560 H1404 Q1407.2 560 1407.2 556.8 V538" fill="none" stroke="#000" stroke-opacity="0.16" stroke-width="1.6"/><rect x="1168.2" y="534.9" width="237.9" height="24.1" rx="3" fill="#fff" fill-opacity="0.52" stroke="#DCDCDC" stroke-width="1"/></g>
<text x="1173.85" y="551.7" font-size="14.4" fill="#7F7F7F" textLength="225.31" lengthAdjust="spacingAndGlyphs" fill-opacity="0.8">Series "Total" Point "4" Data Label</text>
</svg>
</body></html>
